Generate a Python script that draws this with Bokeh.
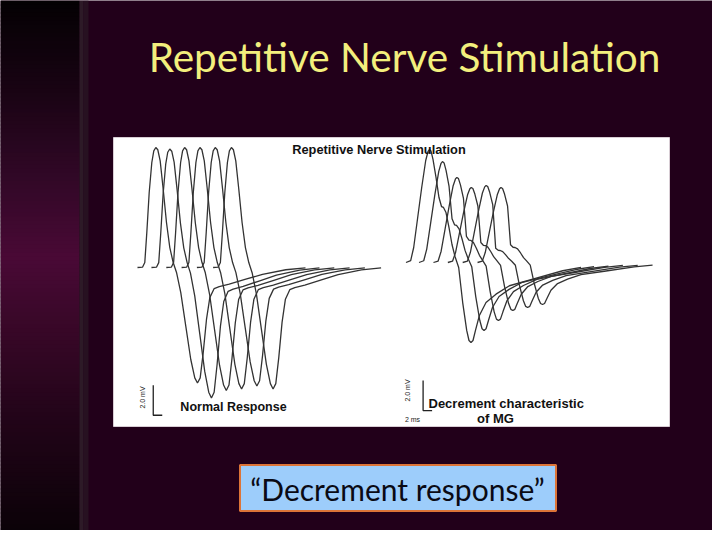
import numpy as np
from bokeh.plotting import figure
from bokeh.models import Range1d
from bokeh.core.properties import value
from bokeh.embed import file_html
from bokeh.resources import INLINE

# ---------------- data ----------------
slide_title = "Repetitive Nerve Stimulation"
figure_title = "Repetitive Nerve Stimulation"
left_label = "Normal Response"
right_label_1 = "Decrement characteristic"
right_label_2 = "of MG"
callout = "\u201cDecrement response\u201d"
scale_mv_label = "2.0 mV"
scale_ms_label = "2 ms"
scale_bar_mv = 2.0
scale_bar_ms = 2.0

normal_t = [0.0, 1.11, 1.62, 2.07, 2.60, 3.18, 3.62, 4.07, 4.51, 5.04, 5.71, 6.44, 7.18, 7.93,
            8.67, 9.62, 10.73, 11.84, 12.73, 13.33, 13.93, 14.60, 15.33, 16.07, 17.04, 18.16,
            20.38, 24.07, 27.78, 32.96, 37.33]
normal_v = [0.0, 0.02, 0.33, 2.33, 5.00, 7.00, 7.78, 8.00, 7.85, 7.11, 5.22, 3.00, 1.33, 0.33,
            -0.33, -1.67, -3.89, -6.11, -7.33, -7.67, -7.33, -5.67, -3.45, -2.00, -1.40, -1.27,
            -1.11, -0.78, -0.45, -0.15, -0.02]
normal_start_ms = [0.0, 3.1, 6.4, 9.8, 13.2, 16.8]
normal_peak_mv = [8.0, 7.9, 8.0, 8.0, 8.0, 8.0]
normal_trough_mv = [7.7, 8.7, 8.2, 8.1, 7.9, 8.1]

# Decrement (MG): shape of trace 1, with parts p (main peak), s (shoulder), n (negative phase)
decr_t = [0.0, 1.04, 1.71, 2.60, 3.49, 4.38, 4.89, 5.20, 5.56, 6.00, 6.67,
          7.33, 7.89, 8.33, 8.89, 9.56, 10.22, 10.89,
          11.71, 12.60, 13.49, 14.00, 14.44, 14.89, 15.44, 16.31, 17.78, 20.00, 22.98,
          28.16, 34.82, 38.89]
decr_v = [0.0, 0.13, 1.00, 3.00, 5.00, 6.80, 7.40, 7.53, 7.43, 6.87, 5.67,
          4.33, 3.73, 3.67, 3.33, 2.33, 1.20, 0.40,
          -0.33, -2.67, -4.53, -5.20, -5.33, -5.20, -4.53, -3.53, -2.67, -2.11, -1.55,
          -1.11, -0.55, -0.33]
decr_part = ["p"] * 11 + ["s"] * 7 + ["n"] * 14
decr_start_ms = [0.0, 2.9, 6.1, 9.3, 12.6, 15.9]
decr_peak_mv = [7.53, 6.73, 5.67, 5.00, 5.13, 5.00]
decr_shoulder_mv = [3.67, 2.47, 1.47, 1.13, 0.80, 1.00]
decr_trough_mv = [5.33, 4.53, 3.87, 3.20, 3.00, 2.80]

# ---------------- style / layout ----------------
BG = "#22001a"
TITLE_COL = "#f3ef7d"
TRACE_COL = "#333333"
PX_PER_MS = 4.5
PX_PER_MV = 15.0

p = figure(width=712, height=530, x_range=Range1d(8, 720), y_range=Range1d(538, 8),
           output_backend="svg", toolbar_location=None, min_border=0,
           x_axis_type=None, y_axis_type=None,
           background_fill_color=BG, border_fill_color=BG, outline_line_color=None)
p.grid.visible = False

# left gradient strip
stops_y = [0, 100, 180, 265, 330, 420, 546]
stops_c = ["#020102", "#1a0414", "#300826", "#4a0a36", "#3a0829", "#24051a", "#0a0207"]
rgb = np.array([[int(c[i:i + 2], 16) for i in (1, 3, 5)] for c in stops_c], dtype=float)
band_top = np.arange(8, 538, 4)
cols = []
for y in band_top + 2:
    r = np.interp(y, stops_y, rgb[:, 0]); g = np.interp(y, stops_y, rgb[:, 1]); b = np.interp(y, stops_y, rgb[:, 2])
    cols.append("#%02x%02x%02x" % (int(r), int(g), int(b)))
p.quad(left=8, right=87, top=band_top, bottom=band_top + 5, fill_color=cols, line_color=None)
p.quad(left=[87, 91], right=[91, 96], top=[8, 8], bottom=[538, 538],
       fill_color=["#2d1a27", "#271121"], line_color=None)

# title
p.text(x=[412], y=[64], text=[slide_title], text_font=value("Lato"), text_font_size="40.5px",
       text_color=TITLE_COL, text_align="center", text_baseline="middle")

# white panel
p.quad(left=121, right=677, top=145, bottom=434, fill_color="white", line_color="#d8cdd4", line_width=1)

# callout box
p.quad(left=247.5, right=563.5, top=472.5, bottom=518.5, fill_color="#9dcdfb",
       line_color="#dc7438", line_width=2)
p.text(x=[405], y=[496.5], text=[callout], text_font=value("Lato"), text_font_size="30px",
       text_color="#0a0a14", text_align="center", text_baseline="middle")

# ---- left panel: normal response ----
ox_l, oy_l = 145.0, 275.0
left = p.subplot(x_source=Range1d(0, 40), y_source=Range1d(0, 8),
                 x_target=Range1d(ox_l, ox_l + 40 * PX_PER_MS),
                 y_target=Range1d(oy_l, oy_l - 8 * PX_PER_MV))
ref_pk = max(normal_v); ref_tr = -min(normal_v)
xs, ys = [], []
for s, pk, tr in zip(normal_start_ms, normal_peak_mv, normal_trough_mv):
    xs.append([s + t for t in normal_t])
    ys.append([v * pk / ref_pk if v >= 0 else v * tr / ref_tr for v in normal_v])
left.multi_line(xs=xs, ys=ys, line_color=TRACE_COL, line_width=1.3)
bx, by = 3.5, -9.85
left.line(x=[bx, bx, bx + scale_bar_ms], y=[by + scale_bar_mv, by, by], line_color="#222222", line_width=1.3)

# ---- right panel: decrement ----
ox_r, oy_r = 413.5, 270.0
right = p.subplot(x_source=Range1d(0, 40), y_source=Range1d(0, 8),
                  x_target=Range1d(ox_r, ox_r + 40 * PX_PER_MS),
                  y_target=Range1d(oy_r, oy_r - 8 * PX_PER_MV))
rp = max(decr_v); rs = decr_v[decr_part.index("s") + 2]; rn = -min(decr_v)
xs, ys = [], []
for s, pk, sh, tr in zip(decr_start_ms, decr_peak_mv, decr_shoulder_mv, decr_trough_mv):
    xs.append([s + t for t in decr_t])
    yy = []
    for v, part in zip(decr_v, decr_part):
        if part == "p":
            yy.append(v * pk / rp)
        elif part == "s":
            yy.append(v * sh / rs)
        else:
            yy.append(v * tr / rn)
    ys.append(yy)
right.multi_line(xs=xs, ys=ys, line_color=TRACE_COL, line_width=1.3)
bx2, by2 = 3.8, -9.87
right.line(x=[bx2, bx2, bx2 + scale_bar_ms], y=[by2 + scale_bar_mv, by2, by2], line_color="#222222", line_width=1.3)

# panel texts
p.text(x=[386.5], y=[157], text=[figure_title], text_font=value("Liberation Sans"), text_font_style="bold",
       text_font_size="12.8px", text_color="#111111", text_align="center", text_baseline="middle")
p.text(x=[241], y=[414], text=[left_label], text_font=value("Liberation Sans"), text_font_style="bold",
       text_font_size="12.5px", text_color="#111111", text_align="center", text_baseline="middle")
p.text(x=[436], y=[411], text=[right_label_1], text_font=value("Liberation Sans"), text_font_style="bold",
       text_font_size="13px", text_color="#111111", text_align="left", text_baseline="middle")
p.text(x=[503], y=[425.5], text=[right_label_2], text_font=value("Liberation Sans"), text_font_style="bold",
       text_font_size="13px", text_color="#111111", text_align="center", text_baseline="middle")
p.text(x=[149.5, 414.5], y=[405, 398], text=[scale_mv_label, scale_mv_label], angle=np.pi / 2,
       text_font=value("Liberation Sans"), text_font_size="7px", text_color="#222222",
       text_align="center", text_baseline="middle")
p.text(x=[420], y=[427], text=[scale_ms_label], text_font=value("Liberation Sans"), text_font_size="7px",
       text_color="#222222", text_align="center", text_baseline="middle")

open("out.html", "w").write(file_html(p, INLINE))
